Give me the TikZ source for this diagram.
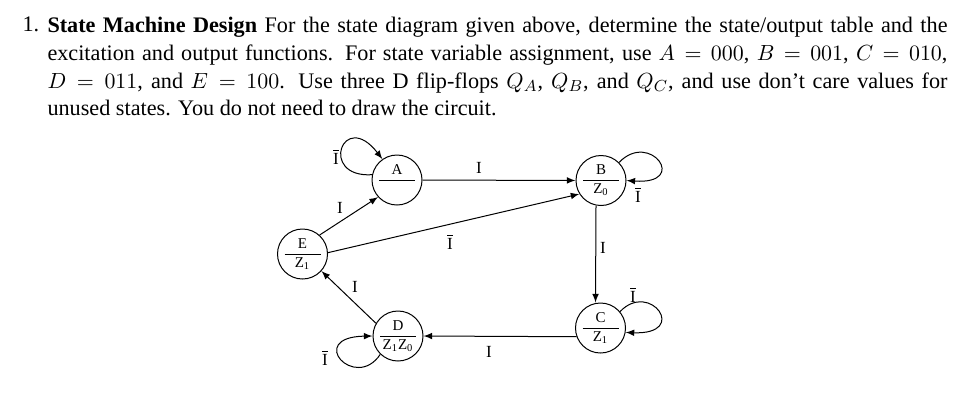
\documentclass[tikz,border=0pt]{standalone}
\usepackage[no-math]{fontspec}
\setmainfont{Liberation Serif}
\usetikzlibrary{arrows,calc,positioning}

\begin{document}
\begin{tikzpicture}[
    x=0.5pt, y=-0.5pt,
    line width=0.5pt,
    >=latex,
    state/.style={circle, draw, minimum size=25pt, inner sep=0pt},
    stname/.style={anchor=base, inner sep=0pt, font=\fontsize{7.5}{8}\selectfont},
    stout/.style={anchor=base, inner sep=0pt, font=\fontsize{7.5}{8}\selectfont},
    lbl/.style={inner sep=0pt, font=\fontsize{8.5}{9}\selectfont},
    para/.style={inner sep=0pt, font=\fontsize{11.1}{13.9}\selectfont}
]
\useasboundingbox (0,0) rectangle (979,408);

% Problem text
\node[para, anchor=base west] (num) at (22,31) {1.};
\node[para, anchor=north west, text width=450pt, align=justify] (task) at (47,16.5)
  {\textbf{State Machine Design} For the state diagram given above, determine the state/output table and the\linebreak
   excitation and output functions. For state variable assignment, use $A=000$, $B=001$, $C=010$,\linebreak
   $D=011$, and $E=100$. Use three D flip-flops $Q_A$, $Q_B$, and $Q_C$, and use don't care values for\linebreak
   unused states. You do not need to draw the circuit.};

% States
\node[state] (A) at (397,180) {};
\node[state] (B) at (601,180.5) {};
\node[state] (C) at (600.5,328) {};
\node[state] (D) at (398,336) {};
\node[state] (E) at (302.5,254) {};

\foreach \s in {A,B,C,D,E}
  \draw ($(\s)+(-18,0)$) -- ($(\s)+(18,0)$);

% State names and outputs
\node[stname] (nA) at ($(A)+(0,-6)$) {A};
\node[stname] (nB) at ($(B)+(0,-6)$) {B};
\node[stname] (nC) at ($(C)+(0,-6)$) {C};
\node[stname] (nD) at ($(D)+(0,-6)$) {D};
\node[stname] (nE) at ($(E)+(0,-6)$) {E};
\node[stout] (oB) at ($(B)+(0,13)$) {Z\textsubscript{0}};
\node[stout] (oC) at ($(C)+(0,13)$) {Z\textsubscript{1}};
\node[stout] (oD) at ($(D)+(0,13)$) {Z\textsubscript{1}Z\textsubscript{0}};
\node[stout] (oE) at ($(E)+(0,13)$) {Z\textsubscript{1}};

% Transitions
\draw[->] (A) -- (B);
\draw[->] (E.48) -- (A.222);
\draw[->] (E.3) -- (B.212);
\draw[->] ([xshift=-2.5pt]B.south) -- ([xshift=-2.5pt]C.north);
\draw[->] (C.200) -- (D.east);
\draw[->] (D.150) -- (E.318);

% Self loops
\draw[->] (A.168) .. controls (318,178) and (343,108) .. (A.125);
\draw[->] (B.45) .. controls (650,130) and (690,185) .. (B.east);
\draw[->] (C.40) .. controls (650,280) and (690,335) .. (C.350);
\draw[->] (D.226) .. controls (355,392) and (305,337) .. (D.west);

% Labels
\node[lbl] (lAA) at (336,157) {$\overline{\mbox{I}}$};
\node[lbl] (lAB) at (479,168) {I};
\node[lbl] (lEA) at (340,208) {I};
\node[lbl] (lEB) at (450,242) {$\overline{\mbox{I}}$};
\node[lbl] (lBB) at (638,195) {$\overline{\mbox{I}}$};
\node[lbl] (lBC) at (603,248) {I};
\node[lbl] (lCC) at (633,295) {$\overline{\mbox{I}}$};
\node[lbl] (lCD) at (489,352) {I};
\node[lbl] (lDE) at (355,287) {I};
\node[lbl] (lDD) at (325,358) {$\overline{\mbox{I}}$};

\end{tikzpicture}
\end{document}
